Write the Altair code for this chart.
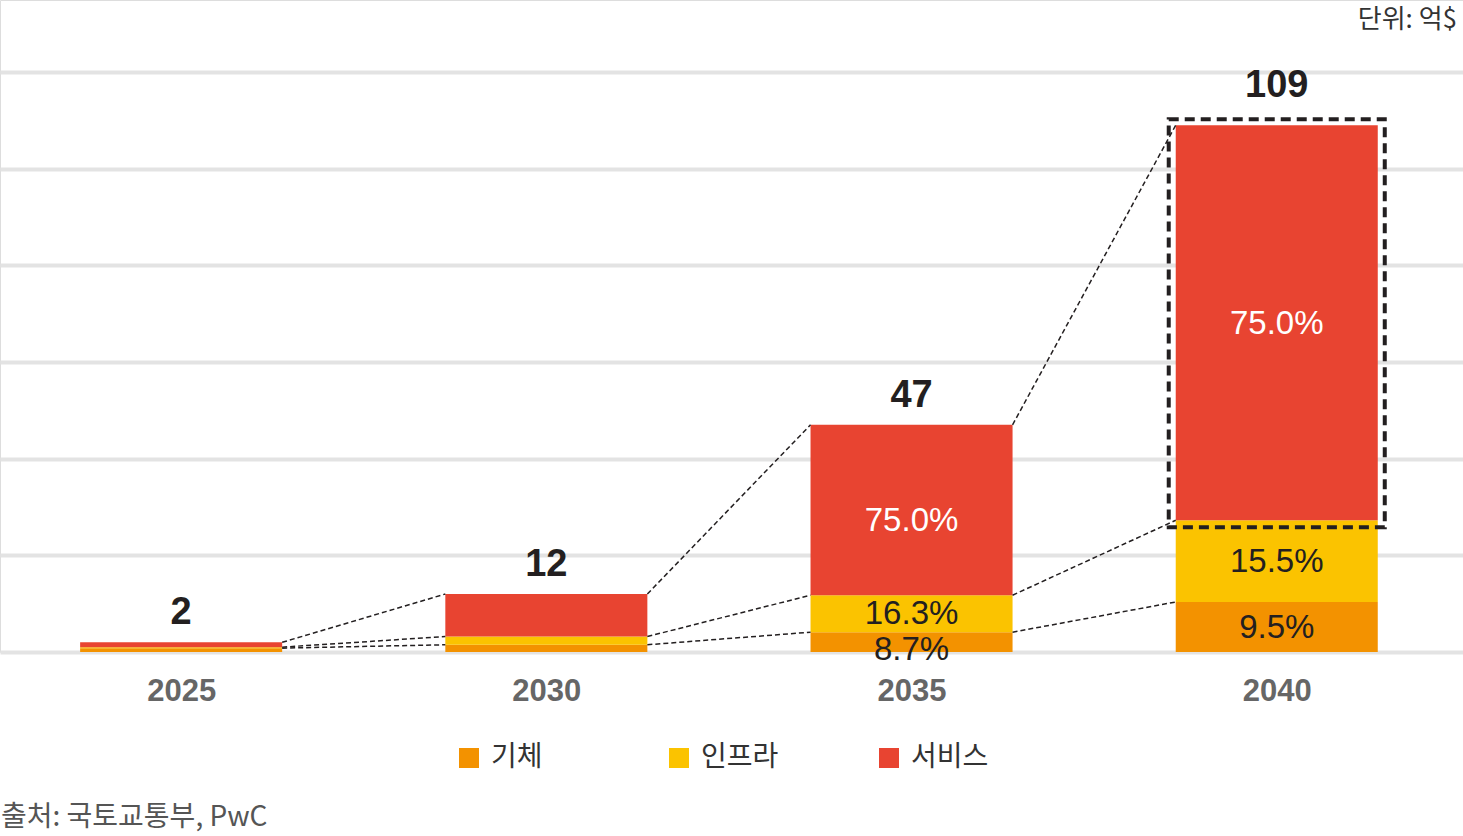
import altair as alt
import pandas as pd

# ---- data ----
years = [2025, 2030, 2035, 2040]
totals = [2, 12, 47, 109]
segments = ["기체", "인프라", "서비스"]
seg_colors = ["#F39200", "#FBC300", "#E84431"]
airframe = [0.8, 1.5, 4.1, 10.35]      # 기체
infra = [0.2, 1.7, 7.65, 16.9]         # 인프라
service = [1.0, 8.8, 35.25, 81.75]     # 서비스
pct_airframe = [None, None, "8.7%", "9.5%"]
pct_infra = [None, None, "16.3%", "15.5%"]
pct_service = [None, None, "75.0%", "75.0%"]
unit_text = "단위: 억$"
source_text = "출처: 국토교통부, PwC"

HALF = 1.383  # half bar width in year units

# ---- build tables ----
rows = []
for i, yr in enumerate(years):
    vals = [airframe[i], infra[i], service[i]]
    pcts = [pct_airframe[i], pct_infra[i], pct_service[i]]
    base = 0.0
    for s, v, p in zip(segments, vals, pcts):
        rows.append({"year": yr, "x0": yr - HALF, "x1": yr + HALF, "seg": s,
                     "y0": base, "y1": base + v, "mid": base + v / 2,
                     "pct": p if p else ""})
        base += v
bars = pd.DataFrame(rows)

conn = []
for i in range(len(years) - 1):
    lv_a = [airframe[i], airframe[i] + infra[i], airframe[i] + infra[i] + service[i]]
    lv_b = [airframe[i + 1], airframe[i + 1] + infra[i + 1],
            airframe[i + 1] + infra[i + 1] + service[i + 1]]
    for a, b in zip(lv_a, lv_b):
        conn.append({"xa": years[i] + HALF, "xb": years[i + 1] - HALF, "ya": a, "yb": b})
conn = pd.DataFrame(conn)

tot = pd.DataFrame({"year": years, "total": totals, "label": [str(t) for t in totals]})

box = bars[(bars["year"] == 2040) & (bars["seg"] == "서비스")]

xscale = alt.Scale(domain=[2022.52, 2042.55], nice=False, zero=False)
yscale = alt.Scale(domain=[0, 134.9], nice=False)

X = alt.X("x0:Q", scale=xscale,
          axis=alt.Axis(values=years, format="d", title=None, grid=False, ticks=False,
                        domain=False, labelFont="Liberation Sans", labelFontSize=31,
                        labelFontWeight="bold", labelColor="#666666", labelPadding=24))
Y = alt.Y("y1:Q", scale=yscale,
          axis=alt.Axis(values=[0, 20, 40, 60, 80, 100, 120], title=None, labels=False,
                        ticks=False, domain=False, grid=True, gridColor="#e3e3e3",
                        gridWidth=4))

bar_layer = alt.Chart(bars).mark_bar().encode(
    x=X, x2="x1:Q", y=Y, y2="y0:Q",
    color=alt.Color("seg:N", scale=alt.Scale(domain=segments, range=seg_colors),
                    legend=alt.Legend(orient="none", legendX=455, legendY=744,
                                      direction="horizontal", title=None,
                                      symbolType="square", symbolSize=400,
                                      symbolStrokeWidth=0, labelFont="Noto Sans CJK KR",
                                      labelFontSize=28, labelColor="#333333",
                                      labelOffset=8, columnPadding=96, gridAlign="all",
                                      padding=0)),
)

conn_layer = alt.Chart(conn).mark_rule(color="#231f20", strokeWidth=1.5,
                                       strokeDash=[5, 3]).encode(
    x=alt.X("xa:Q", scale=xscale), x2="xb:Q",
    y=alt.Y("ya:Q", scale=yscale), y2="yb:Q")

box_layer = alt.Chart(box).mark_rect(fillOpacity=0, stroke="#231f20", strokeWidth=4,
                                     strokeDash=[10, 6], xOffset=-7, x2Offset=7,
                                     yOffset=-6, y2Offset=7).encode(
    x=alt.X("x0:Q", scale=xscale), x2="x1:Q",
    y=alt.Y("y1:Q", scale=yscale), y2="y0:Q")


def pct_text(flt, dy):
    return alt.Chart(bars).transform_filter(alt.datum.pct != "").transform_filter(flt).mark_text(
        font="Liberation Sans", fontSize=33, baseline="middle", align="center", dy=dy).encode(
        x=alt.X("year:Q", scale=xscale), y=alt.Y("mid:Q", scale=yscale), text="pct:N",
        color=alt.condition(alt.datum.seg == "서비스", alt.value("white"),
                            alt.value("#231f20")))


pct_2040 = pct_text(alt.datum.year == 2040, 1)
pct_2035_red = pct_text((alt.datum.year == 2035) & (alt.datum.seg == "서비스"), 11)
pct_2035_yel = pct_text((alt.datum.year == 2035) & (alt.datum.seg == "인프라"), 0)
pct_2035_org = pct_text((alt.datum.year == 2035) & (alt.datum.seg == "기체"), 8)

tot_small = alt.Chart(tot).transform_filter(alt.datum.year != 2040).mark_text(
    font="Liberation Sans", fontSize=38, fontWeight="bold", color="#231f20",
    baseline="middle", dy=-29).encode(
    x=alt.X("year:Q", scale=xscale), y=alt.Y("total:Q", scale=yscale), text="label:N")

tot_big = alt.Chart(tot).transform_filter(alt.datum.year == 2040).mark_text(
    font="Liberation Sans", fontSize=38, fontWeight="bold", color="#231f20",
    baseline="middle", dy=-39).encode(
    x=alt.X("year:Q", scale=xscale), y=alt.Y("total:Q", scale=yscale), text="label:N")

unit_layer = alt.Chart(pd.DataFrame({"t": [unit_text]})).mark_text(
    font="Noto Sans CJK KR", fontSize=26, color="#333333", align="right",
    baseline="middle").encode(x=alt.value(1457), y=alt.value(20), text="t:N")

src_layer = alt.Chart(pd.DataFrame({"t": [source_text]})).mark_text(
    font="Noto Sans CJK KR", fontSize=28, color="#555555", align="left",
    baseline="middle").encode(x=alt.value(1), y=alt.value(818), text="t:N")

chart = alt.layer(bar_layer, conn_layer, box_layer, pct_2040, pct_2035_red, pct_2035_yel,
                  pct_2035_org, tot_small, tot_big, unit_layer, src_layer).properties(
    width=1463, height=652, autosize="none",
    padding={"left": 0, "right": 0, "top": 0, "bottom": 184},
).configure_view(stroke=None).configure(background="white")

chart.save("out.html", embed_options={"renderer": "svg", "actions": False})
